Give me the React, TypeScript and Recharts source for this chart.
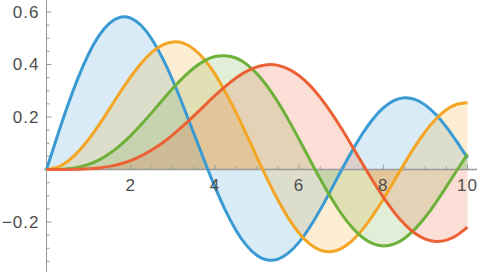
import {
  ComposedChart,
  Area,
  Line,
  XAxis,
  YAxis,
  ReferenceLine,
  ReferenceDot,
} from "recharts";

// sample points (x) and the four curves
const X = [
  0, 0.25, 0.5, 0.75, 1, 1.25, 1.5, 1.75, 2, 2.25, 2.5, 2.75, 3, 3.25, 3.5, 3.75, 4, 4.25, 4.5, 4.75, 5,
  5.25, 5.5, 5.75, 6, 6.25, 6.5, 6.75, 7, 7.25, 7.5, 7.75, 8, 8.25, 8.5, 8.75, 9, 9.25, 9.5, 9.75, 10,
];
const J1 = [
  0, 0.124, 0.2423, 0.3492, 0.4401, 0.5106, 0.5579, 0.5802, 0.5767, 0.5484, 0.4971, 0.4259, 0.3391,
  0.2412, 0.1374, 0.0333, -0.066, -0.1555, -0.2311, -0.2892, -0.3276, -0.345, -0.3414, -0.3178, -0.2767,
  -0.2208, -0.1538, -0.0804, -0.0047, 0.0686, 0.1352, 0.1916, 0.2346, 0.2623, 0.2731, 0.2671, 0.2453,
  0.2092, 0.1613, 0.1049, 0.0435,
];
const J2 = [
  0, 0.0078, 0.0306, 0.0671, 0.1149, 0.1711, 0.2321, 0.2941, 0.3528, 0.4048, 0.4461, 0.4738, 0.4861,
  0.4812, 0.4586, 0.4192, 0.3641, 0.2948, 0.2178, 0.1333, 0.0466, -0.0384, -0.1173, -0.1864, -0.2429,
  -0.2836, -0.3074, -0.313, -0.3014, -0.2729, -0.2302, -0.1757, -0.113, -0.0455, 0.0224, 0.087, 0.1448,
  0.1925, 0.2279, 0.2486, 0.2546,
];
const J3 = [
  0, 0.0003, 0.0026, 0.0085, 0.0196, 0.0369, 0.061, 0.0919, 0.1289, 0.1712, 0.2167, 0.2633, 0.3091,
  0.351, 0.3867, 0.4139, 0.4302, 0.433, 0.4247, 0.4015, 0.3648, 0.3157, 0.2561, 0.1881, 0.1148, 0.0393,
  -0.0354, -0.1051, -0.1676, -0.2192, -0.258, -0.2823, -0.2911, -0.2844, -0.2626, -0.2273, -0.1809,
  -0.126, -0.0653, -0.0029, 0.0584,
];
const J4 = [
  0, 0, 0.0002, 0.0008, 0.0025, 0.0059, 0.0118, 0.0209, 0.034, 0.0516, 0.074, 0.1007, 0.132, 0.1668,
  0.2043, 0.243, 0.2811, 0.3165, 0.3485, 0.3739, 0.3912, 0.3992, 0.3967, 0.3827, 0.3576, 0.3213, 0.2747,
  0.2196, 0.1578, 0.0915, 0.0238, -0.0429, -0.1054, -0.1613, -0.2078, -0.2429, -0.2655, -0.2742,
  -0.2691, -0.2504, -0.2196,
];

const X_MAJOR = [2, 4, 6, 8, 10];
const X_MINOR = [0.5, 1, 1.5, 2.5, 3, 3.5, 4.5, 5, 5.5, 6.5, 7, 7.5, 8.5, 9, 9.5];
const Y_MAJOR = [0.6, 0.4, 0.2, -0.2];
const Y_MINOR = [
  0.55, 0.5, 0.45, 0.35, 0.3, 0.25, 0.15, 0.1, 0.05, -0.05, -0.1, -0.15, -0.25, -0.3, -0.35,
];

const SERIES = [
  { key: "j1", values: J1, color: "#3a9ad3" },
  { key: "j2", values: J2, color: "#f5a524" },
  { key: "j3", values: J3, color: "#6db13b" },
  { key: "j4", values: J4, color: "#ec6134" },
];

const data = X.map((x, i) => {
  const row: Record<string, number> = { x };
  for (const s of SERIES) row[s.key] = s.values[i];
  return row;
});

const AXIS = "#999999";
const TEXT = "#4d4d4d";
const FONT = "'Liberation Sans', Arial, sans-serif";

const fmt = (v: number) => (v < 0 ? `\u2212${Math.abs(v)}` : `${v}`);

// tick drawn upward from the x axis, with its label under the axis
const xTick = (len: number, label?: string) => (p: any) => (
  <g>
    <line x1={p.cx} y1={p.cy} x2={p.cx} y2={p.cy - len} stroke={AXIS} strokeWidth={1} />
    {label && (
      <text
        x={p.cx}
        y={p.cy + 22}
        textAnchor="middle"
        fontSize={17}
        letterSpacing={1}
        fontFamily={FONT}
        fill={TEXT}
      >
        {label}
      </text>
    )}
  </g>
);

// tick drawn rightward from the y axis, with its label on the left
const yTick = (len: number, label?: string) => (p: any) => (
  <g>
    <line x1={p.cx} y1={p.cy} x2={p.cx + len} y2={p.cy} stroke={AXIS} strokeWidth={1} />
    {label && (
      <text
        x={p.cx - 7}
        y={p.cy + 6}
        textAnchor="end"
        fontSize={17}
        letterSpacing={1}
        fontFamily={FONT}
        fill={TEXT}
      >
        {label}
      </text>
    )}
  </g>
);

export default function App() {
  return (
    <div style={{ position: "absolute", left: 0, top: 0, background: "#fff" }}>
      <ComposedChart
        width={480}
        height={276}
        data={data}
        margin={{ top: 0, right: 3, bottom: 4, left: 44 }}
      >
        <XAxis type="number" dataKey="x" domain={[-0.0594, 10.226]} allowDataOverflow hide />
        <YAxis type="number" domain={[-0.3905, 0.6457]} allowDataOverflow hide />

        {SERIES.map((s) => (
          <Area
            key={`fill_${s.key}`}
            type="natural"
            dataKey={s.key}
            baseValue={0}
            stroke="none"
            fill={s.color}
            fillOpacity={0.2}
            isAnimationActive={false}
          />
        ))}

        <ReferenceLine y={0} stroke={AXIS} strokeWidth={1.5} />
        <ReferenceLine x={0} stroke={AXIS} strokeWidth={1} />

        {X_MINOR.map((t) => (
          <ReferenceDot key={`xm${t}`} x={t} y={0} shape={xTick(3)} />
        ))}
        {X_MAJOR.map((t) => (
          <ReferenceDot key={`xM${t}`} x={t} y={0} shape={xTick(5, fmt(t))} />
        ))}
        {Y_MINOR.map((t) => (
          <ReferenceDot key={`ym${t}`} x={0} y={t} shape={yTick(3)} />
        ))}
        {Y_MAJOR.map((t) => (
          <ReferenceDot key={`yM${t}`} x={0} y={t} shape={yTick(5, fmt(t))} />
        ))}

        {SERIES.map((s) => (
          <Line
            key={`line_${s.key}`}
            type="natural"
            dataKey={s.key}
            stroke={s.color}
            strokeWidth={3}
            dot={false}
            isAnimationActive={false}
          />
        ))}
      </ComposedChart>
    </div>
  );
}
